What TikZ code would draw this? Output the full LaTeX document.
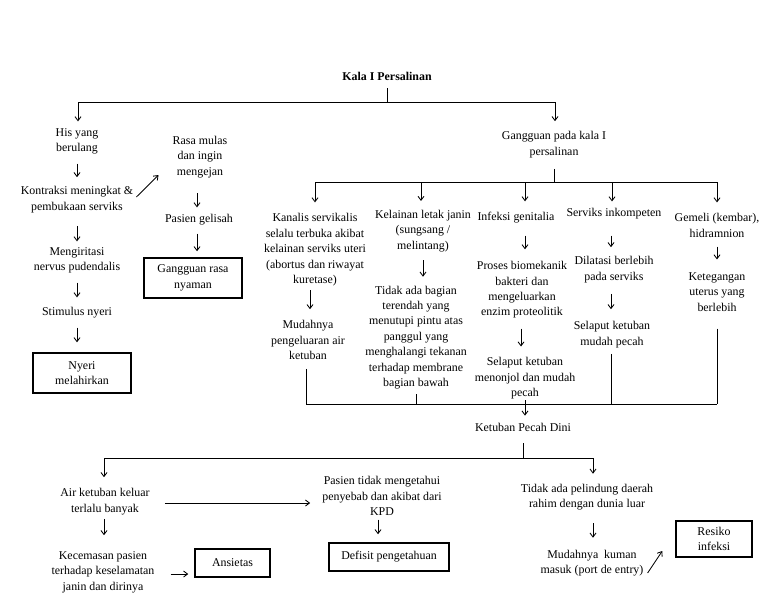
\documentclass[tikz,border=0pt]{standalone}
\usepackage{fontspec}
\setmainfont{Liberation Serif}
\usetikzlibrary{arrows.meta}
\newcommand\fsz{\fontsize{11.9}{15.4}\selectfont}
\begin{document}
\begin{tikzpicture}[x=1pt,y=-1pt,
  txt/.style={align=center, inner sep=0pt, font=\fsz},
  bx/.style={draw, line width=1.5pt, align=center, inner sep=0pt, font=\fsz},
  ln/.style={line width=0.85pt},
  arr/.style={ln, -{Straight Barb[length=4pt,width=6pt,line width=0.85pt]}}]
\fill[white] (0,0) rectangle (768,594);
\useasboundingbox (0,0) rectangle (768,594);

% ---------- top ----------
\node[txt, font=\fsz\bfseries] (title) at (387,76) {Kala I Persalinan};
\coordinate (tl) at (78,102);
\coordinate (tr) at (555,102);

% left branch
\node[txt] (his) at (77,141.5) {His yang\\berulang};
\node[txt] (kon) at (77,199.5) {Kontraksi meningkat \&\\pembukaan serviks};
\node[txt] (mengi) at (77,260.5) {Mengiritasi\\nervus pudendalis};
\node[txt] (stim) at (77,313) {Stimulus nyeri};
\node[bx, minimum width=98pt, minimum height=40pt] (nyeri) at (82,373) {Nyeri\\melahirkan};
\node[txt] (rasa) at (200,157) {Rasa mulas\\dan ingin\\mengejan};
\node[txt] (gelisah) at (199,220) {Pasien gelisah};
\node[bx, minimum width=98pt, minimum height=40pt] (nyaman) at (193,278) {Gangguan rasa\\nyaman};

% right branch
\node[txt] (gang) at (554,144.5) {Gangguan pada kala I\\persalinan};
\coordinate (b2a) at (315,182);
\coordinate (b2b) at (421,182);
\coordinate (b2c) at (525,182);
\coordinate (b2d) at (612,182);
\coordinate (b2e) at (717,182);

\node[txt] (kan) at (315,249.8) {Kanalis servikalis\\selalu terbuka akibat\\kelainan serviks uteri\\(abortus dan riwayat\\kuretase)};
\node[txt] (mud1) at (308,340) {Mudahnya\\pengeluaran air\\ketuban};

\node[txt] (kel) at (423,231) {Kelainan letak janin\\(sungsang /\\melintang)};
\node[txt] (tidak) at (416,337.5) {Tidak ada bagian\\terendah yang\\menutupi pintu atas\\panggul yang\\menghalangi tekanan\\terhadap membrane\\bagian bawah};

\node[txt] (inf) at (516,218) {Infeksi genitalia};
\node[txt] (pros) at (522,290) {Proses biomekanik\\bakteri dan\\mengeluarkan\\enzim proteolitik};
\node[txt] (sel1) at (525,378.5) {Selaput ketuban\\menonjol dan mudah\\pecah};

\node[txt] (serv) at (614,214) {Serviks inkompeten};
\node[txt] (dil) at (614,269.5) {Dilatasi berlebih\\pada serviks};
\node[txt] (sel2) at (612,334.5) {Selaput ketuban\\mudah pecah};

\node[txt] (gem) at (717,225.5) {Gemeli (kembar),\\hidramnion};
\node[txt] (ket) at (717,292) {Ketegangan\\uterus yang\\berlebih};

\coordinate (b3l) at (306,404);
\coordinate (b3r) at (717,404);
\node[txt] (kpd) at (523,427) {Ketuban Pecah Dini};
\coordinate (b4l) at (104,458);
\coordinate (b4r) at (593,458);

% bottom
\node[txt] (air) at (105,501.5) {Air ketuban keluar\\terlalu banyak};
\node[txt] (kec) at (103,572) {Kecemasan pasien\\terhadap keselamatan\\janin dan dirinya};
\node[bx, minimum width=75pt, minimum height=28pt] (ans) at (232.5,563) {Ansietas};
\node[txt] (pas) at (382,496) {Pasien tidak mengetahui\\penyebab dan akibat dari\\KPD};
\node[bx, minimum width=120pt, minimum height=28pt] (def) at (389,557) {Defisit pengetahuan};
\node[txt] (tap) at (587,497) {Tidak ada pelindung daerah\\rahim dengan dunia luar};
\node[txt] (mud2) at (592,563) {Mudahnya\ \ kuman\\masuk (port de entry)};
\node[bx, minimum width=76pt, minimum height=36pt] (res) at (714,539) {Resiko\\infeksi};

% ---------- connectors ----------
\draw[ln, shorten <=8pt] (title.south) -- (title.south |- tl);
\draw[ln] (tl) -- (tr);
\draw[arr, shorten >=7pt] (tl) -- (tl |- his.north);
\draw[arr, shorten >=10pt] (tr) -- (tr |- gang.north);

\draw[arr, shorten <=9pt, shorten >=9pt] (his.south) -- (his.south |- kon.north);
\draw[arr, shorten <=13pt, shorten >=6pt] (kon.south) -- (kon.south |- mengi.north);
\draw[arr, shorten <=9pt, shorten >=10pt] (mengi.south) -- (mengi.south |- stim.north);
\draw[arr, shorten <=9pt, shorten >=10pt] (stim.south) -- (stim.south |- nyeri.north);
\draw[arr] ([shift={(3,-2.5)}]kon.east) -- ([shift={(-14,18)}]rasa.west);
\draw[arr, shorten <=15pt, shorten >=7pt] ([xshift=-3pt]rasa.south) -- ([xshift=-3pt]rasa.south |- gelisah.north);
\draw[arr, shorten <=8pt, shorten >=6pt] ([xshift=-2pt]gelisah.south) -- ([xshift=-2pt]gelisah.south |- nyaman.north);

\draw[ln, shorten <=11pt] (gang.south) -- (gang.south |- b2a);
\draw[ln] (b2a) -- (b2e);
\draw[arr, shorten >=11pt] (b2a) -- (b2a |- kan.north);
\draw[arr, shorten >=9pt] (b2b) -- (b2b |- kel.north);
\draw[arr, shorten >=11pt] (b2c) -- (b2c |- inf.north);
\draw[arr, shorten >=7pt] (b2d) -- (b2d |- serv.north);
\draw[arr, shorten >=11pt] (b2e) -- (b2e |- gem.north);

\draw[arr, shorten <=4pt, shorten >=11pt] ([xshift=-5pt]kan.south) -- ([xshift=-5pt]kan.south |- mud1.north);
\draw[arr, shorten <=8pt, shorten >=9pt] (kel.south) -- (kel.south |- tidak.north);
\draw[arr, shorten <=12pt, shorten >=12pt] ([xshift=9pt]inf.south) -- ([xshift=9pt]inf.south |- pros.north);
\draw[arr, shorten <=10pt, shorten >=11pt] ([xshift=-1pt]pros.south) -- ([xshift=-1pt]pros.south |- sel1.north);
\draw[arr, shorten <=16pt, shorten >=9pt] ([xshift=-3pt]serv.south) -- ([xshift=-3pt]serv.south |- dil.north);
\draw[arr, shorten <=11pt, shorten >=12pt] ([xshift=-3pt]dil.south) -- ([xshift=-3pt]dil.south |- sel2.north);
\draw[arr, shorten <=9pt, shorten >=13pt] (gem.south) -- (gem.south |- ket.north);

\draw[ln] (b3l) -- (b3r);
\draw[ln, shorten <=9pt] (b3l |- mud1.south) -- (b3l);
\draw[ln, shorten <=5pt] (tidak.south) -- (tidak.south |- b3l);
\draw[ln, shorten <=6pt] ([xshift=-1pt]sel2.south) -- ([xshift=-1pt]sel2.south |- b3l);
\draw[ln, shorten <=17pt] (ket.south) -- (ket.south |- b3r);
\draw[arr, shorten <=1pt, shorten >=7pt] (sel1.south) -- (sel1.south |- kpd.north);

\draw[ln, shorten <=12pt] (kpd.south) -- (kpd.south |- b4l);
\draw[ln] (b4l) -- (b4r);
\draw[arr, shorten >=11pt] (b4l) -- (b4l |- air.north);
\draw[arr, shorten >=10pt] (b4r) -- (b4r |- tap.north);

\draw[arr, shorten <=15pt, shorten >=12pt] ([yshift=-1.5pt]air.east) -- ([yshift=-1.5pt]air.east -| pas.west);
\draw[arr, shorten <=4pt, shorten >=16pt] ([xshift=-1pt]air.south) -- ([xshift=-1pt]air.south |- kec.north);
\draw[arr, shorten <=16pt, shorten >=6pt] ([yshift=-2pt]kec.east) -- ([yshift=-2pt]kec.east -| ans.west);
\draw[arr, shorten <=4pt, shorten >=8pt] ([xshift=-4pt]pas.south) -- ([xshift=-4pt]pas.south |- def.north);
\draw[arr, shorten <=13pt, shorten >=12pt] ([xshift=6pt]tap.south) -- ([xshift=6pt]tap.south |- mud2.north);
\draw[arr] ([shift={(4,10)}]mud2.east) -- ([shift={(-13,12)}]res.west);
\end{tikzpicture}
\end{document}
